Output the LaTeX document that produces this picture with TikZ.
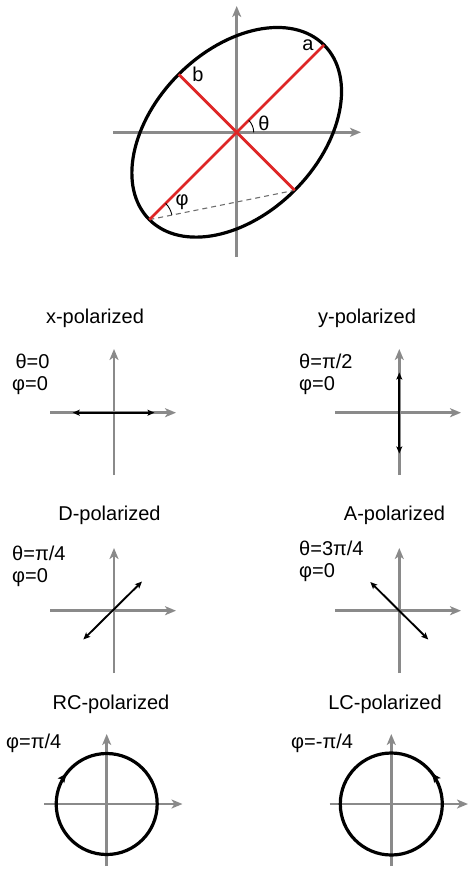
\documentclass[tikz,border=0pt]{standalone}
\usepackage{fontspec}
\setmainfont{Liberation Sans}
\usetikzlibrary{arrows.meta}
\definecolor{axgray}{RGB}{138,138,138}
\definecolor{majred}{RGB}{222,38,38}
\begin{document}
\begin{tikzpicture}[x=1pt,y=1pt,
  axis/.style={draw=axgray,line width=2.6pt,-{Stealth[length=11pt,width=9pt,inset=3pt]}},
  redline/.style={draw=majred,line width=2.8pt},
  pol/.style={draw=black,line width=1.9pt,{Stealth[length=7pt,width=6pt,inset=1.5pt]}-{Stealth[length=7pt,width=6pt,inset=1.5pt]}},
  curve/.style={draw=black,line width=3.2pt},
  lbl/.style={font=\fontsize{20}{22}\selectfont,inner sep=0pt},
  ttl/.style={font=\fontsize{20}{22}\selectfont,inner sep=0pt},
  parm/.style={font=\fontsize{20}{22}\selectfont,inner sep=0pt,anchor=west,align=left}]
\useasboundingbox (0,0) rectangle (474,-876);

% ---------- top ellipse ----------
\coordinate (C) at (236.7,-132.3);
\coordinate (hl) at (113,-132.3);
\coordinate (hr) at (361,-132.3);
\coordinate (vb) at (236.7,-257);
\coordinate (vt) at (236.7,-6);
\draw[axis] (hl) -- (hr);
\draw[axis] (vb) -- (vt);
\draw[curve, rotate around={45:(C)}] (C) ellipse [x radius=123.5, y radius=82];
\path (C) ++(45:123.5) coordinate (Aend);
\path (C) ++(225:123.5) coordinate (Aopp);
\path (C) ++(135:82) coordinate (Bend);
\path (C) ++(-45:82) coordinate (Bopp);
\draw[draw=axgray!80!black, line width=1.1pt, dash pattern=on 5pt off 4pt] (Aopp) -- (Bopp);
\draw[redline] (Aopp) -- (Aend);
\draw[redline] (Bend) -- (Bopp);
\draw[line width=0.9pt] (C) ++(17,0) arc[start angle=0,end angle=45,radius=17];
\draw[line width=0.9pt] (Aopp) ++(11.4:23) arc[start angle=11.4,end angle=45,radius=23];
\node[lbl] (ta) at (308,-45) {a};
\node[lbl] (tb) at (198,-74) {b};
\node[lbl] (tth) at (264,-123) {θ};
\node[lbl] (tph) at (182,-202) {φ};

% ---------- x-polarized ----------
\node[ttl] (t1) at (95,-318) {x-polarized};
\draw[axis] (50,-412.7) -- (176,-412.7);
\draw[axis] (114,-475) -- (114,-349);
\draw[pol] (72.7,-412.7) -- (154.5,-412.7);
\node[parm] (p1) at (12,-374) {\,θ=0\\φ=0};

% ---------- y-polarized ----------
\node[ttl] (t2) at (367,-318) {y-polarized};
\draw[axis] (335.3,-412.7) -- (461,-412.7);
\draw[axis] (399.3,-475) -- (399.3,-349);
\draw[pol] (399.3,-372.5) -- (399.3,-453.5);
\node[parm] (p2) at (299,-374) {θ=π/2\\φ=0};

% ---------- D-polarized ----------
\node[ttl] (t3) at (109.5,-515) {D-polarized};
\draw[axis] (50,-610.7) -- (176,-610.7);
\draw[axis] (114,-673) -- (114,-548);
\draw[pol] (83.3,-639.5) -- (142,-581.5);
\node[parm] (p3) at (12,-566) {θ=π/4\\φ=0};

% ---------- A-polarized ----------
\node[ttl] (t4) at (394.5,-515) {A-polarized};
\draw[axis] (335.3,-610.7) -- (461,-610.7);
\draw[axis] (399.3,-673) -- (399.3,-548);
\draw[pol] (370.3,-582) -- (428.3,-639.5);
\node[parm] (p4) at (299,-561) {θ=3π/4\\φ=0};

% ---------- RC-polarized ----------
\node[ttl] (t5) at (111,-704) {RC-polarized};
\coordinate (O5) at (106.7,-804);
\draw[axis] (44,-804) -- (182.5,-804);
\draw[axis] (106.7,-866) -- (106.7,-734);
\draw[curve] (O5) circle[radius=50.5];
\draw[line width=1pt,-{Stealth[length=9pt,width=8pt,inset=2pt]}] (O5) ++(155:50.5) arc[start angle=155,end angle=143,radius=50.5];
\node[parm] (p5) at (6,-743.5) {φ=π/4};

% ---------- LC-polarized ----------
\node[ttl] (t6) at (385,-704) {LC-polarized};
\coordinate (O6) at (391.3,-804);
\draw[axis] (329.7,-804) -- (468,-804);
\draw[axis] (391.3,-866) -- (391.3,-734);
\draw[curve] (O6) circle[radius=51];
\draw[line width=1pt,-{Stealth[length=9pt,width=8pt,inset=2pt]}] (O6) ++(25:51) arc[start angle=25,end angle=37,radius=51];
\node[parm] (p6) at (291,-743.5) {φ=-π/4};
\end{tikzpicture}
\end{document}
